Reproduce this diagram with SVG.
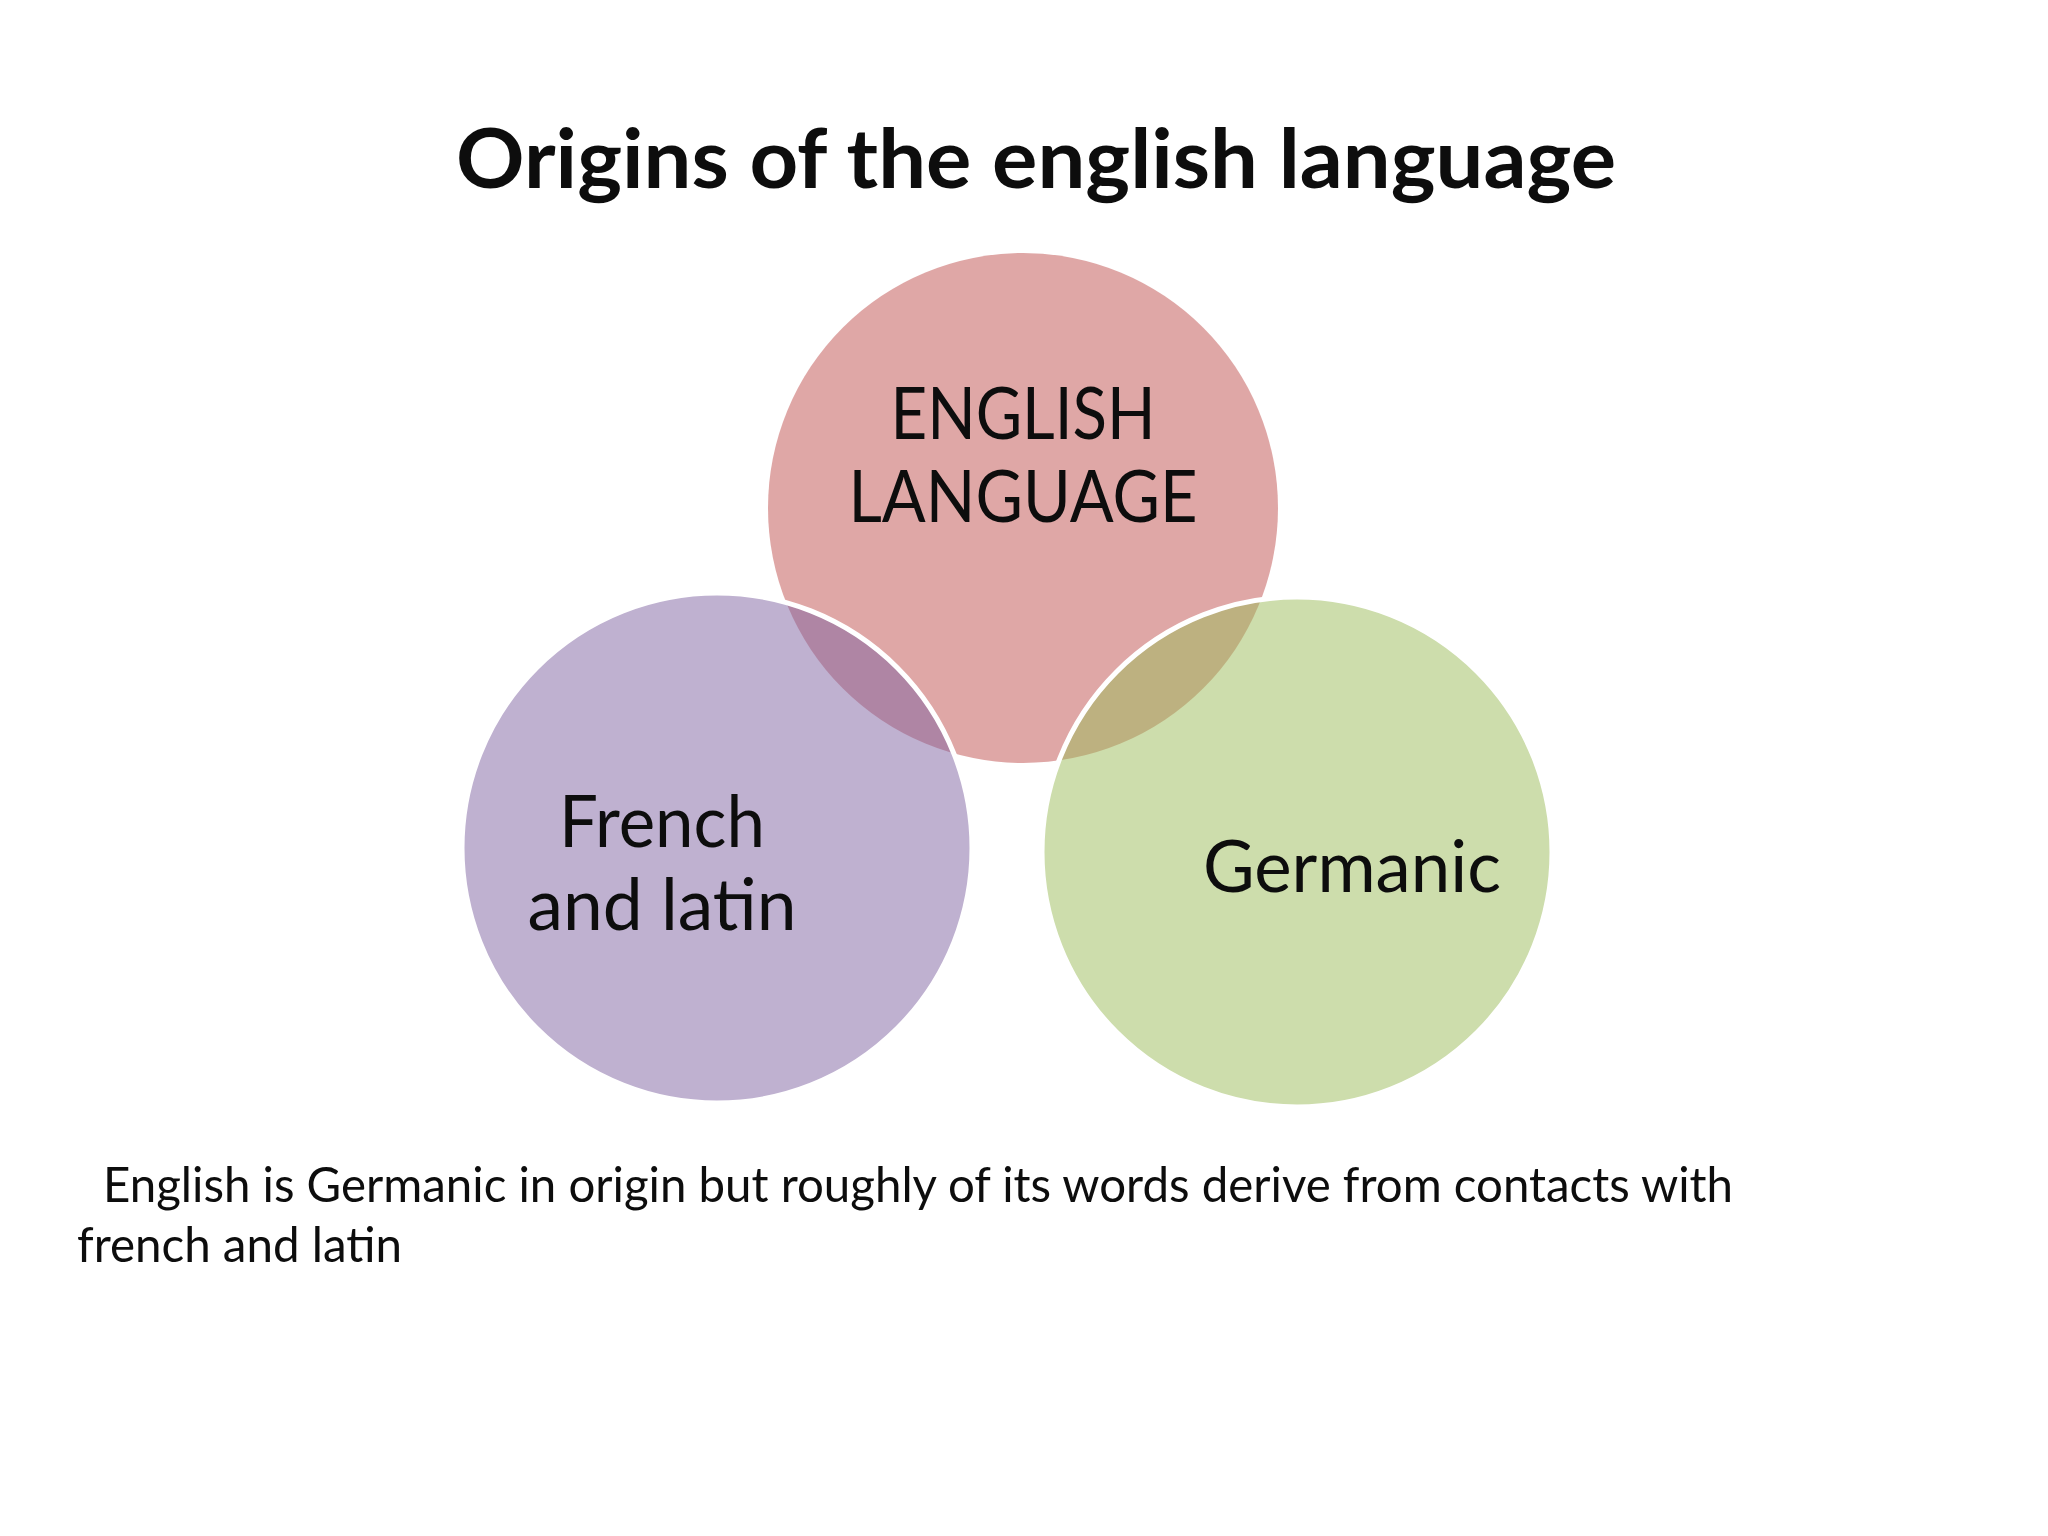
<svg xmlns="http://www.w3.org/2000/svg" width="2048" height="1536" viewBox="0 0 2048 1536">
  <style>
    .t { font-family: "Lato", "Open Sans", "Liberation Sans", sans-serif; fill: #0d0d0d; }
    .title { font-weight: bold; font-size: 82px; }
    .lbl { font-size: 72px; text-anchor: middle; }
    .body { font-size: 49px; }
    .c { fill-opacity: 0.5; }
    .edge { stroke: #ffffff; stroke-width: 5; }
  </style>
  <rect x="0" y="0" width="2048" height="1536" fill="#ffffff"/>
  <text class="t title" x="456" y="188" textLength="1160" lengthAdjust="spacingAndGlyphs">Origins of the english language</text>

  <g id="node-english">
    <circle class="c" cx="1023" cy="508" r="255" fill="#C0504D"/>
    <text class="t lbl" x="1023" y="439" textLength="265" lengthAdjust="spacingAndGlyphs">ENGLISH</text>
    <text class="t lbl" x="1023" y="522" textLength="349" lengthAdjust="spacingAndGlyphs">LANGUAGE</text>
  </g>
  <g id="node-french">
    <circle class="c edge" cx="717" cy="848" r="255" fill="#8064A2"/>
    <text class="t lbl" x="662" y="847" textLength="206" lengthAdjust="spacingAndGlyphs">French</text>
    <text class="t lbl" x="662" y="930" textLength="269" lengthAdjust="spacingAndGlyphs">and latin</text>
  </g>
  <g id="node-germanic">
    <circle class="c edge" cx="1297" cy="852" r="255" fill="#9BBB59"/>
    <text class="t lbl" x="1352" y="892" textLength="298" lengthAdjust="spacingAndGlyphs">Germanic</text>
  </g>
  <g id="connectors"/>

  <text class="t body" x="103" y="1202" textLength="1630" lengthAdjust="spacingAndGlyphs">English is Germanic in origin but roughly of its words derive from contacts with</text>
  <text class="t body" x="77" y="1262" textLength="325" lengthAdjust="spacingAndGlyphs">french and latin</text>
</svg>
